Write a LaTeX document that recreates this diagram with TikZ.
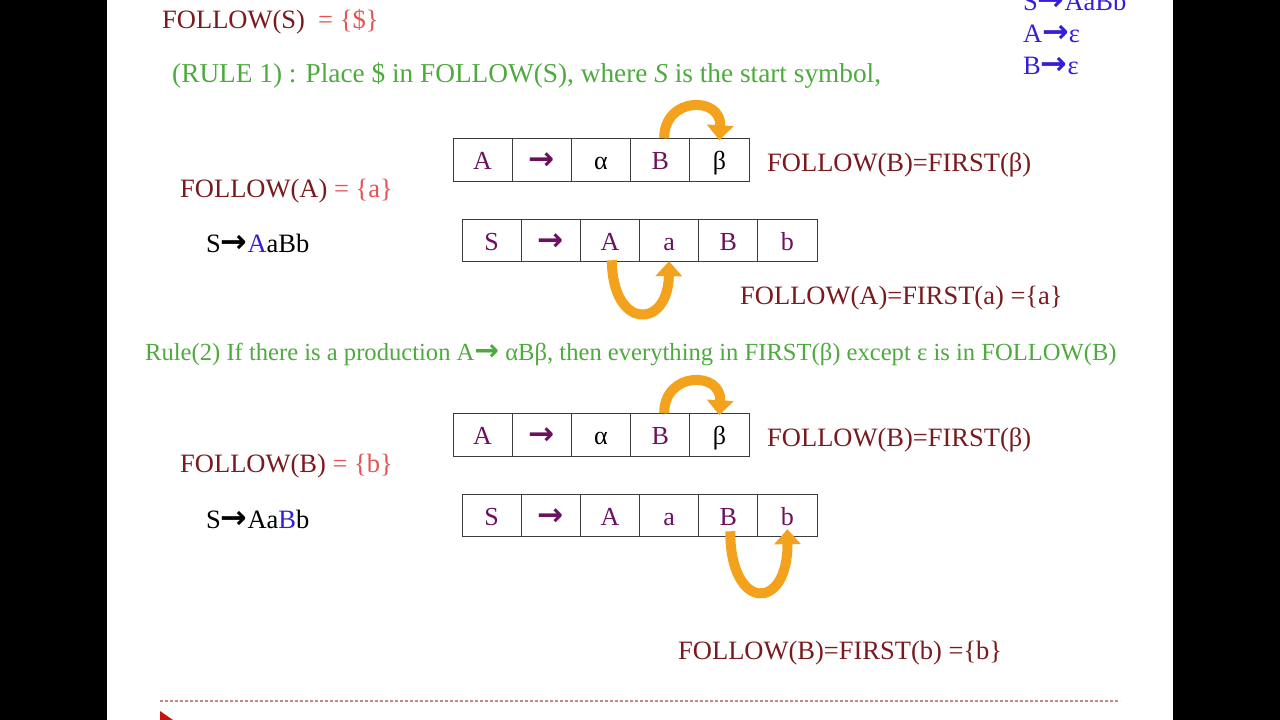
\documentclass[tikz,border=0pt]{standalone}
\usepackage{fontspec}
\setmainfont{Liberation Serif}
\newfontfamily\arrowfont{DejaVu Sans}
\usetikzlibrary{arrows.meta}
\definecolor{dred}{RGB}{122,26,30}
\definecolor{lred}{RGB}{228,84,84}
\definecolor{rgreen}{RGB}{78,170,62}
\definecolor{gblue}{RGB}{52,30,215}
\definecolor{cpurple}{RGB}{106,18,96}
\definecolor{arrorange}{RGB}{242,162,28}
\definecolor{cellline}{RGB}{60,60,60}
\definecolor{dotline}{RGB}{200,135,135}
\definecolor{tri}{RGB}{200,20,10}
\newcommand{\ar}{{\arrowfont\bfseries\scalebox{1.2}{→}}}
\begin{document}
\begin{tikzpicture}[x=1pt,y=-1pt,
  txt/.style={anchor=base west,inner sep=0pt,font=\fontsize{26.5}{30}\selectfont},
  rule/.style={anchor=base west,inner sep=0pt,text=rgreen},
  cellbox/.style={draw=cellline,line width=1pt,minimum width=59.2pt,minimum height=42.5pt,inner sep=0pt,text height=19pt,text depth=0pt,font=\fontsize{26}{30}\selectfont,text=cpurple},
  orangearc/.style={draw=arrorange,line width=10pt,-{Triangle[width=26pt,length=15pt]}}
]
\fill[black] (0,0) rectangle (1280,720);
\fill[white] (107,0) rectangle (1173,720);
\useasboundingbox (0,0) rectangle (1280,720);

% top texts
\node[txt,text=dred] (fs) at (162,28) {FOLLOW(S)\ \ \textcolor{lred}{= \{\$\}}};
\node[rule,font=\fontsize{27.3}{30}\selectfont] (r1) at (172,82) {(RULE 1) : Place \$ in FOLLOW(S), where \textit{S} is the start symbol,};

\node[txt,text=gblue] (g1) at (1023,10) {S\ar AaBb};
\node[txt,text=gblue] (g2) at (1023,42) {A\ar ε};
\node[txt,text=gblue] (g3) at (1023,74) {B\ar ε};

% table 1
\node[cellbox] (a1) at (482.6,160) {A};
\node[cellbox] (a2) at (541.8,160) {\ar};
\node[cellbox,text=black] (a3) at (601,160) {α};
\node[cellbox] (a4) at (660.2,160) {B};
\node[cellbox,text=black] (a5) at (719.4,160) {β};
\node[txt,text=dred] (l1) at (767,171) {FOLLOW(B)=FIRST(β)};
\draw[orangearc] ([xshift=4pt]a4.north) .. controls (664,96) and (722,96) .. ([yshift=-2pt]a5.north);

\node[txt,text=dred] (fa) at (180,197) {FOLLOW(A)\ \textcolor{lred}{= \{a\}}};
\node[txt] (p1) at (206,252) {S\ar\textcolor{gblue}{A}aBb};

% table 2
\node[cellbox] (b1) at (491.6,240.5) {S};
\node[cellbox] (b2) at (550.75,240.5) {\ar};
\node[cellbox] (b3) at (609.9,240.5) {A};
\node[cellbox] (b4) at (669.1,240.5) {a};
\node[cellbox] (b5) at (728.25,240.5) {B};
\node[cellbox] (b6) at (787.4,240.5) {b};
\draw[orangearc] ([xshift=2pt,yshift=2pt]b3.south) .. controls (612,330) and (668,330) .. ([yshift=1pt]b4.south);
\node[txt,text=dred] (l2) at (740,304) {FOLLOW(A)=FIRST(a) =\{a\}};

\node[rule,font=\fontsize{24.6}{28}\selectfont] (r2) at (145,360) {Rule(2) If there is a production A\ar\ αBβ, then everything in FIRST(β) except ε is in FOLLOW(B)};

% table 3
\node[cellbox] (c1) at (482.6,435) {A};
\node[cellbox] (c2) at (541.8,435) {\ar};
\node[cellbox,text=black] (c3) at (601,435) {α};
\node[cellbox] (c4) at (660.2,435) {B};
\node[cellbox,text=black] (c5) at (719.4,435) {β};
\node[txt,text=dred] (l3) at (767,446) {FOLLOW(B)=FIRST(β)};
\draw[orangearc] ([xshift=4pt]c4.north) .. controls (664,371) and (722,371) .. ([yshift=-2pt]c5.north);

\node[txt,text=dred] (fb) at (180,472) {FOLLOW(B)\ \textcolor{lred}{= \{b\}}};
\node[txt] (p2) at (206,528) {S\ar Aa\textcolor{gblue}{B}b};

% table 4
\node[cellbox] (d1) at (491.6,515.5) {S};
\node[cellbox] (d2) at (550.75,515.5) {\ar};
\node[cellbox] (d3) at (609.9,515.5) {A};
\node[cellbox] (d4) at (669.1,515.5) {a};
\node[cellbox] (d5) at (728.25,515.5) {B};
\node[cellbox] (d6) at (787.4,515.5) {b};
\draw[orangearc] ([xshift=2pt,yshift=6pt]d5.south) .. controls (730,612) and (788,612) .. ([yshift=8pt]d6.south);
\node[txt,text=dred] (l4) at (678,659) {FOLLOW(B)=FIRST(b) =\{b\}};

% footer
\coordinate (dl) at (160,701);
\coordinate (dr) at (1120,701);
\draw[dotline,line width=1.5pt,dash pattern=on 3pt off 2pt] (dl) -- (dr);
\fill[tri] (160,711) -- (173,720) -- (160,720) -- cycle;
\end{tikzpicture}
\end{document}
